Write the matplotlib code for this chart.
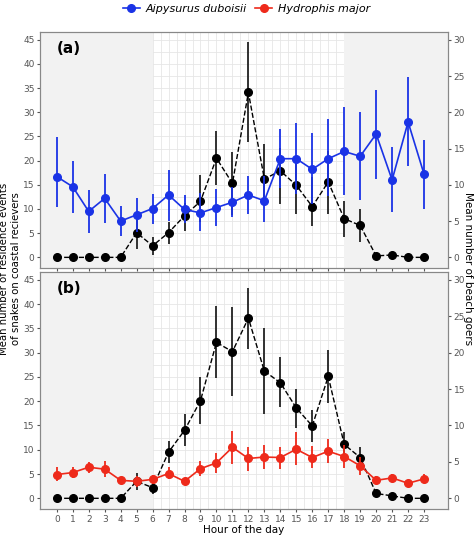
import matplotlib
matplotlib.use("Agg")
import matplotlib.pyplot as plt
from matplotlib.lines import Line2D
import numpy as np

hours = list(range(24))
# Panel a: Aipysurus duboisii (left axis units)
a_mean = [16.7,14.6,9.5,12.2,7.5,8.8,10.1,12.9,9.9,9.2,10.3,11.4,12.9,11.7,20.4,20.4,18.2,20.4,21.9,20.9,25.5,16.0,28.0,17.2]
a_hi = [24.9,19.9,13.9,17.3,10.6,12.2,13.2,18.0,12.9,13.4,14.2,14.6,16.9,16.8,26.5,27.7,25.8,28.7,31.0,30.1,34.7,22.8,37.3,24.2]
a_lo = [10.5,9.2,5.1,7.2,4.5,5.3,7.0,7.5,7.1,5.5,6.5,8.4,9.0,7.3,14.4,13.0,11.0,12.7,12.9,11.8,16.3,9.3,18.8,9.9]
# Beach goers, panel a (drawn on left-axis scale; right axis = left * 30/45)
ba_mean = [0,0,0,0,0,5.1,2.4,5.1,8.6,11.6,20.5,15.3,34.1,16.2,17.9,14.9,10.5,15.6,8.0,6.6,0.3,0.5,0,0]
ba_hi = [0,0,0,0,0,8.9,4.2,7.3,11.3,17.1,26.2,21.8,44.5,23.5,22.6,20.5,16.6,21.9,11.6,9.9,0.3,0.5,0,0]
ba_lo = [0,0,0,0,0,1.8,0.5,2.7,5.4,7.3,14.9,8.8,23.8,11.1,11.0,8.9,6.4,8.9,4.2,3.1,0.3,0.5,0,0]
# Panel b: Hydrophis major
b_mean = [4.9,5.3,6.4,6.0,3.7,3.5,3.9,5.1,3.5,6.1,7.3,10.5,8.2,8.5,8.4,10.1,8.4,9.7,8.6,6.7,3.7,4.2,3.1,4.0]
b_hi = [6.4,6.5,7.5,7.7,4.3,4.6,4.8,6.4,4.2,7.7,9.4,13.9,10.6,11.0,10.6,13.6,10.8,12.3,11.0,8.6,4.5,5.0,3.8,5.1]
b_lo = [3.6,4.1,5.3,4.3,3.1,2.4,2.9,4.0,2.7,4.5,5.3,7.1,5.6,6.0,6.0,6.8,6.2,7.2,6.2,4.8,2.9,3.4,2.6,3.1]
bb_mean = [0,0,0,0,0,3.5,2.2,9.5,14.0,20.1,32.1,30.2,37.1,26.2,23.8,18.6,14.9,25.1,11.1,8.4,1.0,0.5,0,0]
bb_hi = [0,0,0,0,0,5.3,3.6,11.8,17.3,24.9,39.5,39.4,43.4,35.1,29.0,22.5,18.2,30.5,13.7,10.5,1.0,0.5,0,0]
bb_lo = [0,0,0,0,0,1.7,0.8,7.3,10.8,15.2,24.7,21.1,30.8,17.3,18.7,14.4,11.6,19.7,8.6,6.2,1.0,0.5,0,0]

fig = plt.figure(figsize=(4.74, 5.38), dpi=100)
W, H = 474, 538
def mk(top, bot):
    return fig.add_axes([40/W, 1-bot/H, (448-40)/W, (bot-top)/H])
axa = mk(32, 268)
axb = mk(272, 509)

def panel(ax, m, lo, hi, col, bm, blo, bhi, label, showx):
    ax.set_xlim(-1.05, 24.05)
    ax.set_ylim(-2.2, 46.6)
    ax.set_axisbelow(True)
    ax.set_xticks(np.arange(-1, 25, 0.5), minor=True)
    ax.set_yticks(np.arange(0, 46, 2.5), minor=True)
    ax.grid(True, which='both', color='#e6e6e6', lw=0.6)
    ax.tick_params(which='minor', length=0)
    ax.axvspan(-2, 6, color='#f2f2f2', zorder=1, lw=0)
    ax.axvspan(18, 26, color='#f2f2f2', zorder=1, lw=0)
    x = np.array(hours)
    ax.vlines(x, blo, bhi, color='#222222', lw=1.3, zorder=3)
    ax.plot(x, bm, 'k--', lw=1, zorder=3)
    ax.plot(x, bm, 'o', color='black', ms=5.5, zorder=4)
    ax.vlines(x, lo, hi, color=col, lw=1.3, zorder=5)
    ax.plot(x, m, '-o', color=col, lw=1.2, ms=5.5, zorder=6)
    ax.set_yticks(range(0, 46, 5))
    ax.set_xticks(hours)
    ax.tick_params(labelsize=6.5, colors='#555555', length=2.5, pad=1.5)
    if showx:
        ax.set_xticklabels([str(h) for h in hours])
    else:
        ax.set_xticklabels([])
    for s in ax.spines.values():
        s.set_color('#888888')
    ax.text(0.04, 0.91, label, transform=ax.transAxes, fontsize=11, fontweight='bold', zorder=7)
    r = ax.twinx()
    r.set_ylim(-2.2*30/45, 46.6*30/45)
    r.set_yticks(range(0, 31, 5))
    r.tick_params(labelsize=6.5, colors='#555555', length=2.5, pad=1.5)
    for s in r.spines.values():
        s.set_color('#888888')

panel(axa, a_mean, a_lo, a_hi, '#1a33e6', ba_mean, ba_lo, ba_hi, '(a)', False)
panel(axb, b_mean, b_lo, b_hi, '#ee2a1b', bb_mean, bb_lo, bb_hi, '(b)', True)

fig.text(244/W, 1-530/H, 'Hour of the day', ha='center', va='center', fontsize=7.5)
fig.text(10/W, 0.5, 'Mean number of residence events\nof snakes on coastal recievers', rotation=90,
         ha='center', va='center', fontsize=7.3, linespacing=1.15)
fig.text(468/W, 0.5, 'Mean number of beach goers', rotation=270, ha='center', va='center', fontsize=7.5)

handles = [Line2D([], [], color='#1a33e6', marker='o', ms=5.5, lw=1.2),
           Line2D([], [], color='#ee2a1b', marker='o', ms=5.5, lw=1.2)]
fig.legend(handles, ['Aipysurus duboisii', 'Hydrophis major'], loc='center', bbox_to_anchor=(0.52, 1-9/H),
           ncol=2, frameon=False, prop={'style': 'italic', 'size': 8}, handlelength=1.5, columnspacing=0.8,
           handletextpad=0.5)
fig.savefig('out.png', dpi=100)
